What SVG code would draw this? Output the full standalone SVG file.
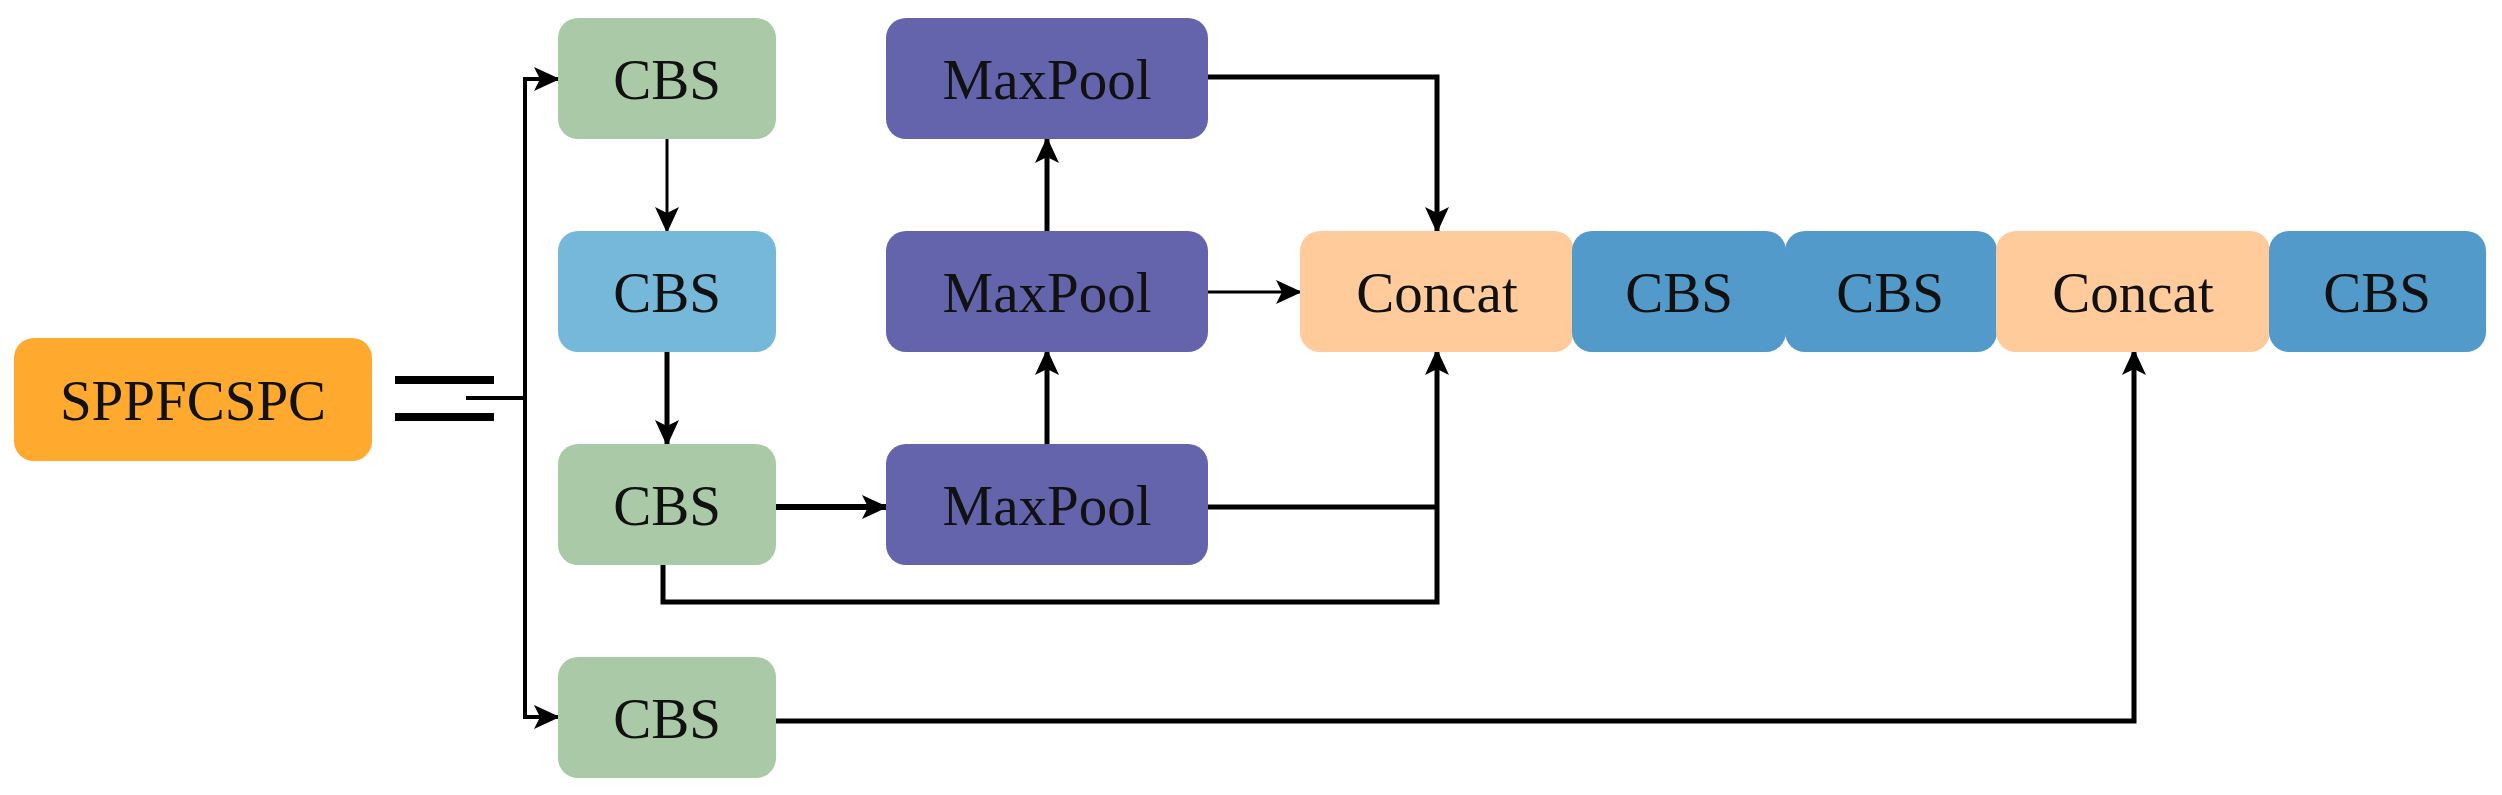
<svg xmlns="http://www.w3.org/2000/svg" width="2502" height="795" viewBox="0 0 2502 795">
<style>
text{font-family:"Liberation Serif","Times New Roman",serif;font-size:57px;fill:#111;text-anchor:middle;dominant-baseline:central}
.c{fill:none;stroke:#000;stroke-linejoin:miter}
.g{fill:#aac9a7}.lb{fill:#75b8da}.p{fill:#6464ad}.o{fill:#ffa92e}.pe{fill:#ffcb9a}.b{fill:#529ac9}
</style>
<defs>
<marker id="a" markerUnits="userSpaceOnUse" markerWidth="26" markerHeight="26" refX="24" refY="13" orient="auto" viewBox="0 0 26 26"><path d="M0,1 L26,13 L0,25 L6,13 Z" fill="#000"/></marker>
</defs>
<g id="connectors">
<path class="c" d="M395,380H494M395,417H494" stroke-width="8"/>
<path class="c" d="M466,398H525" stroke-width="4"/>
<path class="c" d="M525,398V79H558" stroke-width="4" marker-end="url(#a)"/>
<path class="c" d="M525,398V717H558" stroke-width="4" marker-end="url(#a)"/>
<path class="c" d="M667,139V231" stroke-width="3" marker-end="url(#a)"/>
<path class="c" d="M667,351V444" stroke-width="5" marker-end="url(#a)"/>
<path class="c" d="M776,507H886" stroke-width="6" marker-end="url(#a)"/>
<path class="c" d="M1047,444V351" stroke-width="5" marker-end="url(#a)"/>
<path class="c" d="M1047,231V139" stroke-width="5" marker-end="url(#a)"/>
<path class="c" d="M1208,77H1437V231" stroke-width="5" marker-end="url(#a)"/>
<path class="c" d="M1208,292H1300" stroke-width="3" marker-end="url(#a)"/>
<path class="c" d="M1208,507H1437" stroke-width="5"/>
<path class="c" d="M663,563V602H1437V351" stroke-width="5" marker-end="url(#a)"/>
<path class="c" d="M776,721H2134V351" stroke-width="5" marker-end="url(#a)"/>
</g>
<g id="sppfcspc"><rect class="o" x="14" y="338" width="358" height="123" rx="20"/><text x="193" y="400">SPPFCSPC</text></g>
<g id="cbs1"><rect class="g" x="558" y="18" width="218" height="121" rx="20"/><text x="667" y="79">CBS</text></g>
<g id="cbs2"><rect class="lb" x="558" y="231" width="218" height="121" rx="20"/><text x="667" y="292">CBS</text></g>
<g id="cbs3"><rect class="g" x="558" y="444" width="218" height="121" rx="20"/><text x="667" y="505">CBS</text></g>
<g id="cbs4"><rect class="g" x="558" y="657" width="218" height="121" rx="20"/><text x="667" y="718">CBS</text></g>
<g id="maxpool1"><rect class="p" x="886" y="18" width="322" height="121" rx="20"/><text x="1047" y="79">MaxPool</text></g>
<g id="maxpool2"><rect class="p" x="886" y="231" width="322" height="121" rx="20"/><text x="1047" y="292">MaxPool</text></g>
<g id="maxpool3"><rect class="p" x="886" y="444" width="322" height="121" rx="20"/><text x="1047" y="505">MaxPool</text></g>
<g id="concat1"><rect class="pe" x="1300" y="231" width="274" height="121" rx="20"/><text x="1437" y="292">Concat</text></g>
<g id="cbs5"><rect class="b" x="1572" y="231" width="214" height="121" rx="20"/><text x="1679" y="292">CBS</text></g>
<g id="cbs6"><rect class="b" x="1785" y="231" width="212" height="121" rx="20"/><text x="1890" y="292">CBS</text></g>
<g id="concat2"><rect class="pe" x="1996" y="231" width="274" height="121" rx="20"/><text x="2133" y="292">Concat</text></g>
<g id="cbs7"><rect class="b" x="2269" y="231" width="217" height="121" rx="20"/><text x="2377" y="292">CBS</text></g>
</svg>
